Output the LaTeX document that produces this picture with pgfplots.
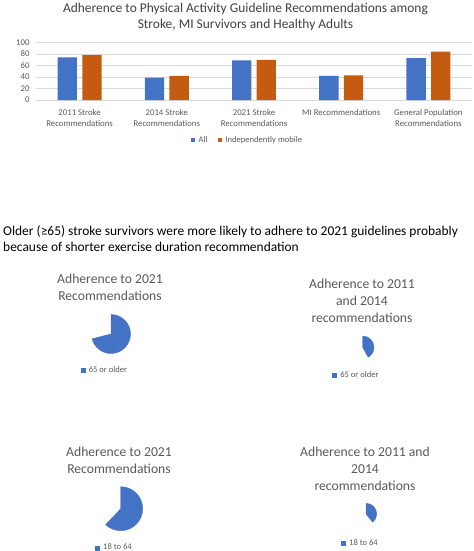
\documentclass[border=0pt]{standalone}
\usepackage{pgfplots}
\pgfplotsset{compat=1.18}
\usepackage{pgfplotstable}
\usepackage{fontspec}
\setmainfont{Carlito}

\definecolor{xlblue}{HTML}{4472C4}
\definecolor{xlorange}{HTML}{C55A11}
\definecolor{xlgrid}{HTML}{D9D9D9}
\definecolor{xltext}{HTML}{595959}
\definecolor{xltitle}{HTML}{404040}

% adherence (%) per guideline
\pgfplotstableread{
cat all mobile
0 74 78
1 39 42
2 69 70
3 42 43
4 73 84
}\adherence

% pie shares (%)
\pgfplotstableread{
x y pct
0 0 71
}\oldnew
\pgfplotstableread{
x y pct
0 0 42
}\oldold
\pgfplotstableread{
x y pct
0 0 62
}\youngnew
\pgfplotstableread{
x y pct
0 0 39
}\youngold

\pgfplotsset{
  pie/.style={hide axis, scale only axis, width=60bp, height=60bp,
    xmin=-1, xmax=1, ymin=-1, ymax=1, clip=false, anchor=center,
    legend style={draw=none, fill=none, anchor=center, inner sep=0pt,
      font=\fontsize{8.6}{10}\selectfont, text=xltext,
      /tikz/every odd column/.append style={column sep=1.5bp}},
    legend image code/.code={\fill[xlblue] (0bp,-2bp) rectangle (4bp,2bp);}},
  wedge/.style={scatter, only marks, mark=*, forget plot, point meta=explicit,
    scatter/@pre marker code/.code={%
      \pgfmathfloattofixed{\pgfplotspointmeta}\let\pct\pgfmathresult
      \fill[xlblue] (0pt,0pt) -- (90:#1) arc[start angle=90, delta angle=-3.6*\pct, radius=#1] -- cycle;
      \scope[opacity=0]},
    scatter/@post marker code/.code={\endscope}},
}

\begin{document}
\begin{tikzpicture}
\useasboundingbox (0,0) rectangle (474bp,-551bp);

\node[align=center, font=\fontsize{13.5}{16}\selectfont, text=xltitle, inner sep=0pt]
  at (245.5bp,-17bp) {Adherence to Physical Activity Guideline Recommendations among\\Stroke, MI Survivors and Healthy Adults};

\begin{axis}[
  at={(36bp,-100bp)}, anchor=south west, scale only axis,
  width=436bp, height=57.5bp,
  xmin=-0.5, xmax=4.5, ymin=0, ymax=100,
  ybar=5.3bp, bar width=19.3bp,
  ytick={0,20,...,100}, ymajorgrids, grid style={xlgrid, line width=0.8bp},
  axis line style={draw=none}, major tick length=0pt,
  xtick=data,
  xticklabels={{2011 Stroke\\Recommendations},{2014 Stroke\\Recommendations},{2021 Stroke\\Recommendations},{MI Recommendations},{General Population\\Recommendations}},
  xticklabel style={align=center, font=\fontsize{8.8}{11}\selectfont, text=xltext, yshift=-6bp},
  yticklabel style={font=\fontsize{8.8}{10.6}\selectfont, text=xltext, xshift=-3bp},
  /pgf/number format/assume math mode=true,
  legend style={at={(0.485,-0.696)}, anchor=center, draw=none, fill=none,
    legend columns=2, font=\fontsize{8.6}{10}\selectfont, text=xltext,
    /tikz/every odd column/.append style={column sep=1.5bp},
    /tikz/every even column/.append style={column sep=8bp}},
  legend image code/.code={\fill[#1] (0bp,-2.2bp) rectangle (4.4bp,2.2bp);},
]
\addplot[fill=xlblue, draw=none] table[x=cat, y=all] {\adherence};
\addplot[fill=xlorange, draw=none] table[x=cat, y=mobile] {\adherence};
\legend{All, Independently mobile}
\end{axis}

\node[anchor=base west, font=\fontsize{13.5}{16}\selectfont, inner sep=0pt] at (3bp,-235bp)
  {Older (≥65) stroke survivors were more likely to adhere to 2021 guidelines probably};
\node[anchor=base west, font=\fontsize{13.5}{16}\selectfont, inner sep=0pt] at (3bp,-251bp)
  {because of shorter exercise duration recommendation};

% pie titles
\node[align=center, font=\fontsize{13.7}{17}\selectfont, text=xltext, inner sep=0pt]
  at (110bp,-287bp) {Adherence to 2021\\Recommendations};
\node[align=center, font=\fontsize{13.7}{17}\selectfont, text=xltext, inner sep=0pt]
  at (362bp,-301bp) {Adherence to 2011\\and 2014\\recommendations};
\node[align=center, font=\fontsize{13.7}{17}\selectfont, text=xltext, inner sep=0pt]
  at (119bp,-460bp) {Adherence to 2021\\Recommendations};
\node[align=center, font=\fontsize{13.7}{17}\selectfont, text=xltext, inner sep=0pt]
  at (365bp,-469bp) {Adherence to 2011 and\\2014\\recommendations};

\begin{axis}[pie, at={(111bp,-334bp)}, legend style={at={(0.40,-0.11)}}]
\addplot[wedge=19.5bp] table[meta=pct] {\oldnew};
\addlegendimage{xlblue}
\addlegendentry{65 or older}
\end{axis}

\begin{axis}[pie, at={(362.7bp,-347.3bp)}, legend style={at={(0.397,0.027)}}]
\addplot[wedge=11.3bp] table[meta=pct] {\oldold};
\addlegendimage{xlblue}
\addlegendentry{65 or older}
\end{axis}

\begin{axis}[pie, at={(120.7bp,-508.7bp)}, legend style={at={(0.397,-0.15)}}]
\addplot[wedge=22bp] table[meta=pct] {\youngnew};
\addlegendimage{xlblue}
\addlegendentry{18 to 64}
\end{axis}

\begin{axis}[pie, at={(366bp,-514bp)}, legend style={at={(0.408,0.012)}}]
\addplot[wedge=10.7bp] table[meta=pct] {\youngold};
\addlegendimage{xlblue}
\addlegendentry{18 to 64}
\end{axis}
\end{tikzpicture}
\end{document}
